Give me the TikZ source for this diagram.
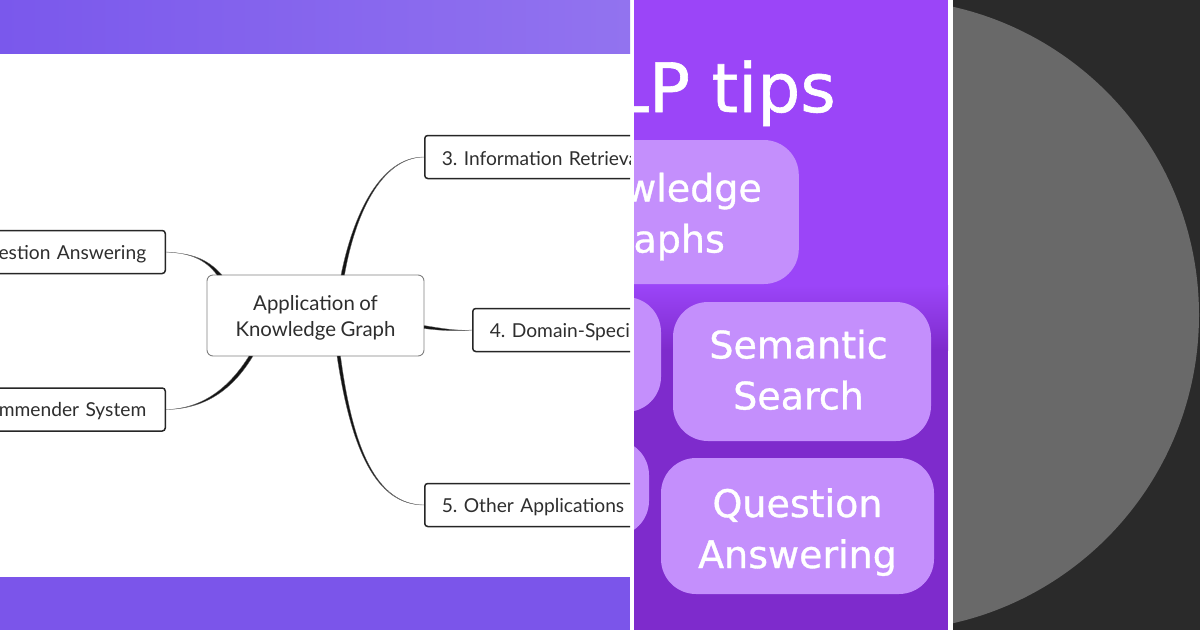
\documentclass[tikz,border=0pt]{standalone}
\usepackage{fontspec}
\setmainfont[WordSpace=0.85]{Lato}
\newfontfamily\pillfont[FakeBold=0.9]{DejaVu Sans}
\frenchspacing
\definecolor{pillc}{HTML}{C48FFC}
\definecolor{purpA}{HTML}{9B45F8}
\definecolor{purpB}{HTML}{7E2BCC}
\definecolor{inkc}{HTML}{2E2E2E}
\definecolor{bandA}{HTML}{7A58EC}
\definecolor{bandB}{HTML}{9273EF}
\definecolor{bandC}{HTML}{7B55EA}
\tikzset{
 leaf/.style={draw=black!85,line width=1.5pt,fill=white,rounded corners=3pt,minimum height=43pt,text width=240pt,inner ysep=0pt,text=inkc,font=\fontsize{19.2}{22}\selectfont,execute at begin node=\rule{0pt}{18pt}},
 leafr/.style={leaf,anchor=west,inner xsep=17pt,align=left},
 leafl/.style={leaf,anchor=east,inner xsep=19pt,align=right},
 hub/.style={draw=black!50,line width=.9pt,fill=white,rounded corners=6pt,minimum width=217pt,minimum height=81pt,align=center,text=inkc,font=\fontsize{20.4}{26}\selectfont},
 taper/.style={draw=black!55,line width=.3pt,fill=black!92},
 pill/.style={fill=pillc,rounded corners=35pt,text=white,align=center,inner sep=0pt,font=\pillfont\fontsize{38}{51}\selectfont},
}
\begin{document}
\begin{tikzpicture}[x=1pt,y=-1pt]
\useasboundingbox (0,0) rectangle (1200,630);
\fill[white] (0,0) rectangle (1200,630);
% left panel
\begin{scope}
\clip (0,0) rectangle (630,630);
\shade[left color=bandA,right color=bandB] (0,0) rectangle (630,53);
\fill[bandC] (0,577) rectangle (630,630);
\node[hub] (app) at (315.5,315.5) {\rule{0pt}{19pt}Application of\\Knowledge Graph};
\node[leafr] (ir) at (424,157) {3. Information Retrieva};
\node[leafr] (dom) at (472,330) {4. Domain-Speci};
\node[leafr] (oth) at (424,505) {5. Other Applications};
\node[leafl] (qa) at (166,252) {estion Answering};
\node[leafl] (rec) at (166,409.5) {mmender System};
\coordinate (t1a) at (341,275); \coordinate (t1b) at (344.5,275);
\coordinate (t2a) at (424,325.5); \coordinate (t2b) at (424,328.5);
\coordinate (t3a) at (337,356); \coordinate (t3b) at (340.5,356);
\coordinate (t4a) at (217,275); \coordinate (t4b) at (222,275);
\coordinate (t5a) at (249,356); \coordinate (t5b) at (253,356);
\draw[taper] (t1a) .. controls (353,215) and (380,157) .. (ir.west) .. controls (381,157.5) and (355,215) .. (t1b) -- cycle;
\draw[taper] (t2a) .. controls (440,328) and (455,331) .. (dom.west) .. controls (455,331.5) and (440,330.5) .. (t2b) -- cycle;
\draw[taper] (t3a) .. controls (351,450) and (376,505) .. (oth.west) .. controls (377,504.5) and (353,450) .. (t3b) -- cycle;
\draw[taper] (t4a) .. controls (205,259) and (190,253) .. (qa.east) .. controls (191,253.5) and (207,258) .. (t4b) -- cycle;
\draw[taper] (t5a) .. controls (229,388) and (202,409) .. (rec.east) .. controls (204,409) and (232,391) .. (t5b) -- cycle;
\end{scope}
% middle panel
\begin{scope}
\clip (634,0) rectangle (948,630);
\fill[purpA] (634,0) rectangle (948,290);
\shade[top color=purpA,bottom color=purpB] (634,285) rectangle (948,350);
\fill[purpB] (634,350) rectangle (948,630);
\node[anchor=base east,inner sep=0pt,text=white,font=\pillfont\fontsize{68}{80}\selectfont] (title) at (836,112) {LP tips};
\node[pill,anchor=east,minimum width=300pt,minimum height=144pt,text width=300pt,align=right] (kg) at (799,212) {\rule{0pt}{38pt}wledge\rule{37pt}{0pt}\\aphs\rule{74pt}{0pt}};
\fill[pillc,rounded corners=35pt] (500,297) rectangle (661,412);
\fill[pillc,rounded corners=35pt] (500,440) rectangle (649,536);
\node[pill,minimum width=258pt,minimum height=139pt] (sem) at (802,371.5) {Semantic\rule{7pt}{0pt}\\Search\rule{7pt}{0pt}\rule[-4pt]{0pt}{4pt}};
\node[pill,minimum width=273pt,minimum height=136pt] (qans) at (797.5,526) {\rule{0pt}{41pt}Question\\Answering};
\end{scope}
% right panel
\begin{scope}
\clip (953,0) rectangle (1200,630);
\fill[black!83.5] (953,0) rectangle (1200,630);
\fill[black!59] (883,315) circle[radius=316];
\end{scope}
\end{tikzpicture}
\end{document}
